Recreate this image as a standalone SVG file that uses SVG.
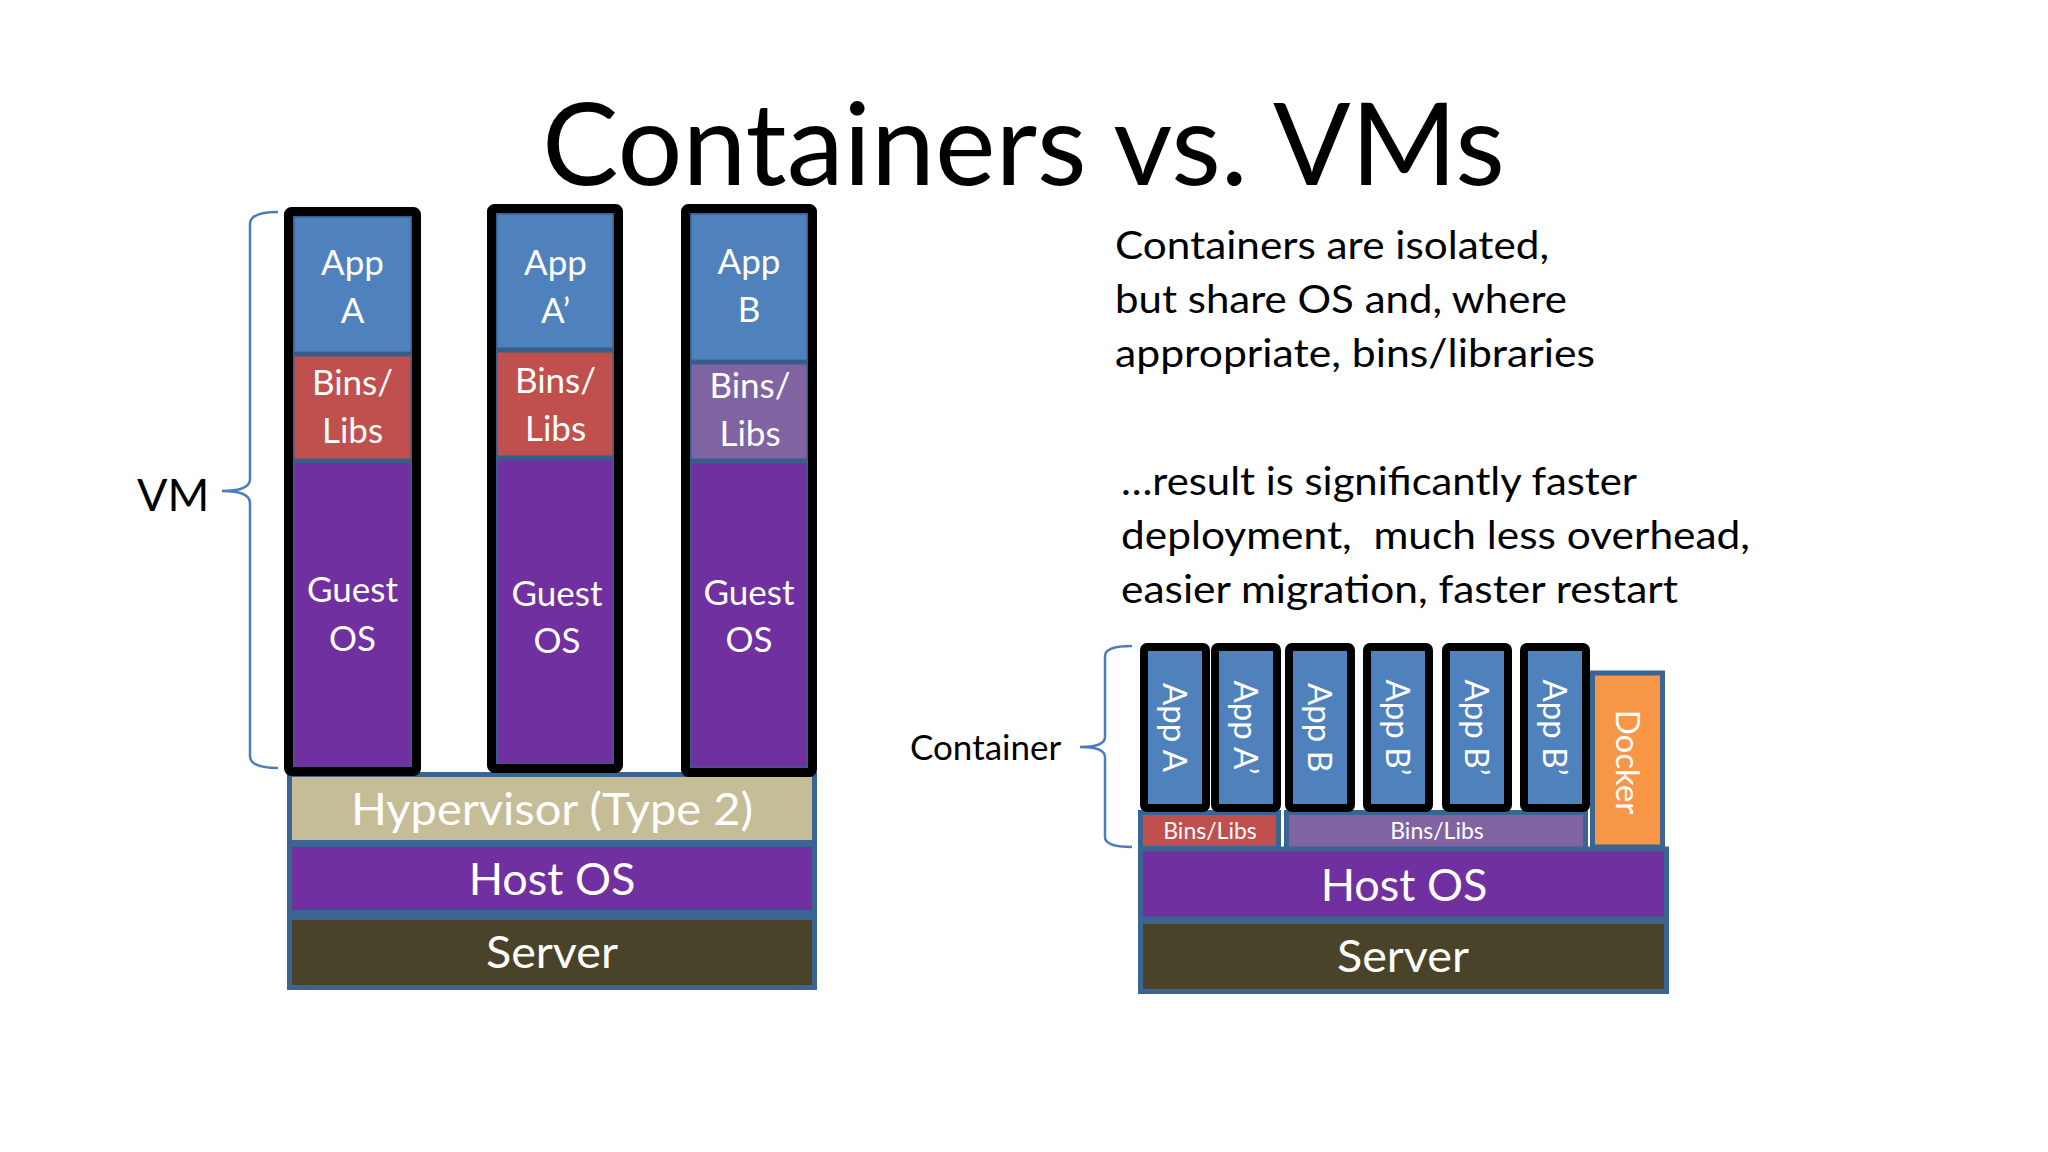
<svg xmlns="http://www.w3.org/2000/svg" width="2048" height="1152" viewBox="0 0 2048 1152">
<style>
text{font-family:Lato,"Open Sans","Liberation Sans",sans-serif}
.w{fill:#fff;text-anchor:middle}
.vt{font-size:35px}
.ct{font-size:33px}
.app{fill:#4f81bd;stroke:#385d8a;stroke-width:3}
.binr{fill:#c0504d;stroke:#385d8a;stroke-width:3}
.binp{fill:#8064a2;stroke:#385d8a;stroke-width:3}
.gos{fill:#7030a0;stroke:#385d8a;stroke-width:3}
.frame{fill:none;stroke:#000;stroke-width:9;stroke-linejoin:round}
.cont{fill:#4f81bd;stroke:#000;stroke-width:8;stroke-linejoin:round}
.lay{stroke:#3a6592;stroke-width:5}
.layer{font-size:45px}
.small{font-size:23px}
.para{font-size:38px;fill:#000}
.lbl{fill:#000}
.brace{fill:none;stroke:#4a7ebb;stroke-width:2.5}
</style>
<rect width="2048" height="1152" fill="#fff"/>

<g id="title">
<text x="542" y="185" font-size="115" textLength="963" lengthAdjust="spacingAndGlyphs" fill="#000">Containers vs. VMs</text>
</g>

<g id="vm-label"><text class="lbl" x="137" y="511" font-size="45">VM</text></g>
<g id="container-label"><text class="lbl" x="910" y="760" font-size="35">Container</text></g>

<g id="connectors">
<path class="brace" d="M278,212 Q250,212 250,224 L250,479 Q250,491 222,491 Q250,491 250,503 L250,756 Q250,768 278,768"/>
<path class="brace" d="M1132,646 Q1105,646 1105,656 L1105,737 Q1105,747 1080,747 Q1105,747 1105,757 L1105,837 Q1105,847 1132,847"/>
</g>

<g id="hypervisor">
<rect class="lay" x="289.5" y="774.5" width="525" height="68" fill="#c4bd97"/>
<text class="w layer" x="552" y="825" fill="#f8f5ea" textLength="402" lengthAdjust="spacingAndGlyphs">Hypervisor (Type 2)</text>
</g>
<g id="vm-host-os">
<rect class="lay" x="289.5" y="844.5" width="525" height="68" fill="#7030a0"/>
<text class="w layer" x="552" y="895">Host OS</text>
</g>
<g id="vm-server">
<rect class="lay" x="289.5" y="917.5" width="525" height="70" fill="#494429"/>
<text class="w layer" x="552" y="968" textLength="132" lengthAdjust="spacingAndGlyphs">Server</text>
</g>

<g id="vm1">
<rect class="app" x="293" y="216" width="119" height="137"/>
<rect class="binr" x="293" y="355" width="119" height="105"/>
<rect class="gos" x="293" y="462" width="119" height="306"/>
<text class="w vt" x="352.5" y="275">App</text>
<text class="w vt" x="352.5" y="323">A</text>
<text class="w vt" x="352.5" y="395">Bins/</text>
<text class="w vt" x="352.5" y="443">Libs</text>
<text class="w vt" x="352.5" y="602">Guest</text>
<text class="w vt" x="352.5" y="651">OS</text>
<rect class="frame" x="288.5" y="211.5" width="128" height="560" rx="3"/>
</g>

<g id="vm2">
<rect class="app" x="496" y="213" width="118" height="136"/>
<rect class="binr" x="496" y="351" width="118" height="106"/>
<rect class="gos" x="496" y="459" width="118" height="306"/>
<text class="w vt" x="555.5" y="275">App</text>
<text class="w vt" x="555.5" y="323">A’</text>
<text class="w vt" x="555.5" y="393">Bins/</text>
<text class="w vt" x="555.5" y="441">Libs</text>
<text class="w vt" x="557" y="606">Guest</text>
<text class="w vt" x="557" y="653">OS</text>
<rect class="frame" x="491.5" y="208.5" width="127" height="560" rx="3"/>
</g>

<g id="vm3">
<rect class="app" x="690" y="213" width="118" height="148"/>
<rect class="binp" x="690" y="363" width="118" height="97"/>
<rect class="gos" x="690" y="462" width="118" height="306"/>
<text class="w vt" x="749" y="274">App</text>
<text class="w vt" x="749" y="322">B</text>
<text class="w vt" x="750" y="398">Bins/</text>
<text class="w vt" x="750" y="446">Libs</text>
<text class="w vt" x="749" y="605">Guest</text>
<text class="w vt" x="749" y="652">OS</text>
<rect class="frame" x="685.5" y="208.5" width="127" height="564" rx="3"/>
</g>

<g id="bins-libs-a">
<rect class="lay" x="1140.5" y="812.5" width="138" height="36" fill="#c0504d"/>
<text class="w small" x="1210" y="839">Bins/Libs</text>
</g>
<g id="bins-libs-b">
<rect class="lay" x="1286.5" y="812.5" width="299" height="37" fill="#8064a2"/>
<text class="w small" x="1437" y="839">Bins/Libs</text>
</g>
<g id="docker">
<rect class="lay" x="1592.5" y="673" width="70" height="174" fill="#f79646"/>
<text class="w ct" transform="translate(1627.5,762) rotate(90)" y="12" font-size="34">Docker</text>
</g>
<g id="ct-host-os">
<rect class="lay" x="1140.5" y="849" width="526" height="70" fill="#7030a0"/>
<text class="w layer" x="1404" y="901">Host OS</text>
</g>
<g id="ct-server">
<rect class="lay" x="1140.5" y="921.5" width="526" height="70" fill="#494429"/>
<text class="w layer" x="1403" y="972" textLength="132" lengthAdjust="spacingAndGlyphs">Server</text>
</g>

<g id="c-app-a">
<rect class="cont" x="1144" y="647" width="62" height="161" rx="3"/>
<text class="w ct" transform="translate(1175,727.5) rotate(90)" y="12">App A</text>
</g>
<g id="c-app-a2">
<rect class="cont" x="1215" y="647" width="62" height="161" rx="3"/>
<text class="w ct" transform="translate(1246,727.5) rotate(90)" y="12">App A’</text>
</g>
<g id="c-app-b">
<rect class="cont" x="1289" y="647" width="62" height="161" rx="3"/>
<text class="w ct" transform="translate(1320,727.5) rotate(90)" y="12">App B</text>
</g>
<g id="c-app-b2">
<rect class="cont" x="1367" y="647" width="62" height="161" rx="3"/>
<text class="w ct" transform="translate(1398,727.5) rotate(90)" y="12">App B’</text>
</g>
<g id="c-app-b3">
<rect class="cont" x="1446" y="647" width="62" height="161" rx="3"/>
<text class="w ct" transform="translate(1477,727.5) rotate(90)" y="12">App B’</text>
</g>
<g id="c-app-b4">
<rect class="cont" x="1524" y="647" width="62" height="161" rx="3"/>
<text class="w ct" transform="translate(1555,727.5) rotate(90)" y="12">App B’</text>
</g>

<g id="notes">
<text class="para" x="1115" y="259" textLength="434" lengthAdjust="spacingAndGlyphs">Containers are isolated,</text>
<text class="para" x="1115" y="313" textLength="452" lengthAdjust="spacingAndGlyphs">but share OS and, where</text>
<text class="para" x="1115" y="367" textLength="480" lengthAdjust="spacingAndGlyphs">appropriate, bins/libraries</text>
<text class="para" x="1121" y="495" textLength="516" lengthAdjust="spacingAndGlyphs">…result is significantly faster</text>
<text class="para" x="1121" y="549" textLength="629" lengthAdjust="spacingAndGlyphs" xml:space="preserve">deployment,  much less overhead,</text>
<text class="para" x="1121" y="603" textLength="557" lengthAdjust="spacingAndGlyphs">easier migration, faster restart</text>
</g>
</svg>
